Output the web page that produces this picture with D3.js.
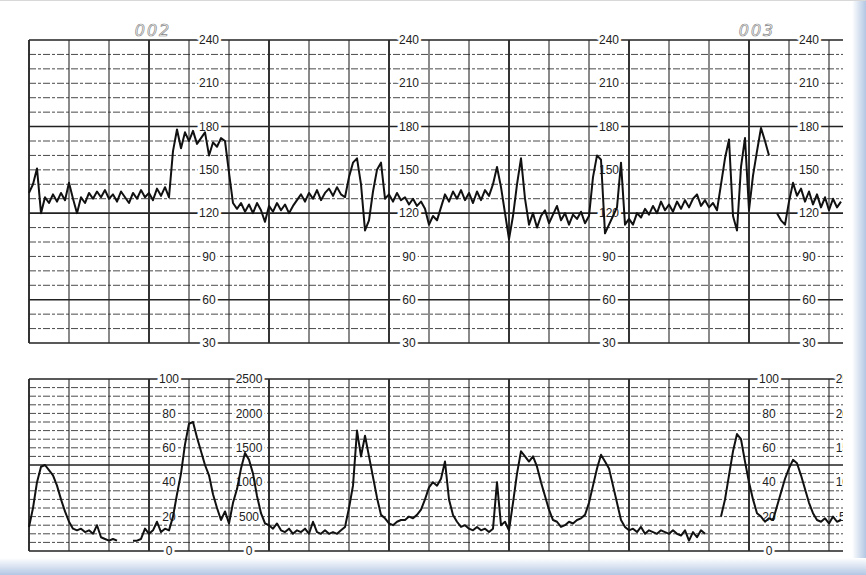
<!DOCTYPE html>
<html>
<head>
<meta charset="utf-8">
<script src="https://cdn.jsdelivr.net/npm/d3@7"></script>
<style>
  body { margin: 0; background: #fff; }
  svg { display: block; }
  .lbl { font-family: "Liberation Sans", Arial, sans-serif; font-size: 12px; fill: #222;
         paint-order: stroke; stroke: #fff; stroke-width: 5px; }
</style>
</head>
<body>
<div id="chart"></div>
<script>
// sampling step of both traces, seconds
const step = 2;

// fetal heart rate, bpm (null = signal loss)
const fhr = [
  134,140,151,120,131,127,133,128,134,129,
  141,130,120,131,127,134,130,135,131,136,
  130,133,128,135,131,127,134,130,136,131,
  134,129,137,132,138,131,163,178,165,176,
  170,177,168,172,176,160,169,166,172,170,
  148,127,123,127,121,126,120,127,122,114,
  125,121,127,122,126,120,125,129,133,128,
  134,130,136,129,134,137,132,138,133,131,
  145,155,158,140,108,115,135,150,155,130,
  133,128,134,129,131,126,130,125,128,123,
  112,118,115,124,133,128,135,130,136,129,
  134,127,135,129,136,132,140,152,138,120,
  102,118,140,158,130,112,120,110,118,122,
  113,119,125,115,120,112,119,116,121,113,
  118,145,160,157,106,112,118,124,155,112,
  116,112,120,117,123,119,125,120,128,122,
  126,121,128,123,129,124,130,133,125,129,
  124,127,122,140,158,171,118,108,152,172,
  122,146,163,179,170,160,null,120,115,112,
  128,141,132,137,128,135,126,133,124,131,
  122,130,124,128
];

// uterine contractions (0-100)
const uc = [
  14,25,40,49,50,47,44,38,30,23,
  17,13,12,13,11,12,10,15,8,7,
  6,7,6,null,null,null,6,6,7,13,
  10,12,17,11,13,12,20,33,45,62,
  74,75,66,58,50,44,33,25,18,23,
  16,28,36,48,57,53,45,32,22,16,
  15,13,16,12,11,13,10,12,11,13,
  10,17,11,10,12,10,11,10,12,14,
  25,38,70,55,67,55,43,31,21,19,
  16,15,17,18,18,20,19,21,24,30,
  37,40,38,42,52,30,21,17,14,15,
  13,12,14,12,13,11,13,40,15,17,
  12,28,45,58,55,52,55,49,40,32,
  24,18,17,14,15,17,16,18,19,21,
  28,38,48,56,52,48,38,28,18,14,
  12,13,11,14,10,12,11,10,12,11,
  10,12,10,9,12,6,11,8,12,10,
  null,null,null,20,30,44,58,68,65,52,
  40,30,22,20,17,19,18,26,34,42,
  48,53,51,44,36,28,22,18,17,19,
  16,20,17,18
];

const fhrTicks = [240, 210, 180, 150, 120, 90, 60, 30];
const fhrLabelTimes = [90, 190, 290, 390];
const ucTicks = [100, 80, 60, 40, 20, 0];
const ucLabelTimes = [70, 370];
const mvuTicks = ["2500", "2000", "1500", "1000", "500", "0"];
const mvuLabelTimes = [110, 410];
const pageMarks = [{ t: 62, text: "002" }, { t: 364, text: "003" }];

const width = 866, height = 575;
const tEnd = 407;

const svg = d3.select("#chart").append("svg")
  .attr("width", width).attr("height", height);

// slide frame shadow (right + bottom)
const defs = svg.append("defs");
const gr = defs.append("linearGradient").attr("id", "gr");
gr.append("stop").attr("offset", "0").attr("stop-color", "#ffffff");
gr.append("stop").attr("offset", "1").attr("stop-color", "#b3c7e3");
const gb = defs.append("linearGradient").attr("id", "gb")
  .attr("x1", 0).attr("y1", 0).attr("x2", 0).attr("y2", 1);
gb.append("stop").attr("offset", "0").attr("stop-color", "#ffffff");
gb.append("stop").attr("offset", "1").attr("stop-color", "#b3c7e3");
defs.append("clipPath").attr("id", "clip")
  .append("rect").attr("x", 0).attr("y", 0).attr("width", 843).attr("height", height);

svg.append("rect").attr("x", 852).attr("y", 0).attr("width", 14).attr("height", height).attr("fill", "url(#gr)");
svg.append("rect").attr("x", 0).attr("y", 558).attr("width", width).attr("height", 17).attr("fill", "url(#gb)");
svg.append("line").attr("x1", 0).attr("x2", width).attr("y1", 0.5).attr("y2", 0.5).attr("stroke", "#d8d8d8");

const x = d3.scaleLinear().domain([0, 400]).range([29, 829]);
const yTop = d3.scaleLinear().domain([30, 240]).range([343, 40]);
const yBot = d3.scaleLinear().domain([0, 100]).range([551, 379]);

const g = svg.append("g").attr("clip-path", "url(#clip)");

function grid(y, lo, hi, minor, majors) {
  const gg = g.append("g");
  gg.selectAll("line.h").data(d3.range(lo, hi + 0.1, minor)).join("line")
    .attr("x1", x(0)).attr("x2", x(tEnd))
    .attr("y1", d => y(d)).attr("y2", d => y(d))
    .attr("stroke", d => majors.includes(d) ? "#222" : "#4a4a4a")
    .attr("stroke-width", d => majors.includes(d) ? 1.6 : 1)
    .attr("stroke-dasharray", d => majors.includes(d) ? null : "7,2,3,2");
  gg.selectAll("line.v").data(d3.range(0, 401, 20)).join("line")
    .attr("x1", d => x(d)).attr("x2", d => x(d))
    .attr("y1", y(hi)).attr("y2", y(lo))
    .attr("stroke", "#2a2a2a")
    .attr("stroke-width", d => d % 60 === 0 ? 1.9 : 1.1);
}
grid(yTop, 30, 240, 10, [240, 180, 120, 60, 30]);
grid(yBot, 0, 100, 5, [100, 50, 0]);

// scale labels
fhrLabelTimes.forEach(t => {
  g.selectAll(null).data(fhrTicks).join("text").attr("class", "lbl")
    .attr("x", x(t)).attr("y", d => yTop(d)).attr("dy", "0.35em")
    .attr("text-anchor", "middle").text(d => d);
});
ucLabelTimes.forEach(t => {
  g.selectAll(null).data(ucTicks).join("text").attr("class", "lbl")
    .attr("x", x(t)).attr("y", d => yBot(d)).attr("dy", "0.35em")
    .attr("text-anchor", "middle").text(d => d);
});
mvuLabelTimes.forEach(t => {
  g.selectAll(null).data(mvuTicks).join("text").attr("class", "lbl")
    .attr("x", x(t)).attr("y", (d, i) => yBot(ucTicks[i])).attr("dy", "0.35em")
    .attr("text-anchor", "middle").text(d => d);
});

// page numbers printed on the paper
svg.selectAll(null).data(pageMarks).join("text")
  .attr("x", d => x(d.t)).attr("y", 36)
  .attr("text-anchor", "middle")
  .attr("font-family", "DejaVu Sans, sans-serif").attr("font-size", 16)
  .attr("font-style", "italic").attr("letter-spacing", 2)
  .attr("fill", "#fff").attr("stroke", "#888").attr("stroke-width", 0.7)
  .text(d => d.text);

// traces
const fhrLine = d3.line()
  .defined(d => d != null)
  .x((d, i) => x(i * step)).y(d => yTop(d));
const ucLine = d3.line()
  .defined(d => d != null)
  .x((d, i) => x(i * step)).y(d => yBot(d));

g.append("path").datum(fhr).attr("d", fhrLine)
  .attr("fill", "none").attr("stroke", "#111").attr("stroke-width", 2)
  .attr("stroke-linejoin", "round");
g.append("path").datum(uc).attr("d", ucLine)
  .attr("fill", "none").attr("stroke", "#111").attr("stroke-width", 2)
  .attr("stroke-linejoin", "round");
</script>
</body>
</html>
